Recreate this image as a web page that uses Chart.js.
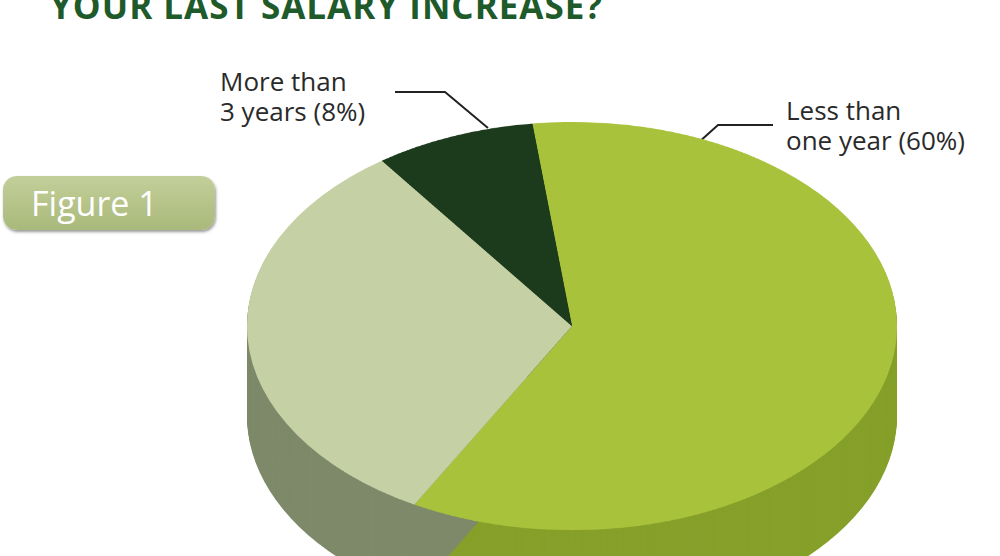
<!DOCTYPE html>
<html><head><meta charset="utf-8">
<script src="https://cdn.jsdelivr.net/npm/chart.js@4"></script>
<style>
body{margin:0;width:1000px;height:556px;overflow:hidden;background:#fff;position:relative;font-family:"Open Sans",Lato,sans-serif}
#title{position:absolute;left:50px;top:-18px;font:bold 35px "Open Sans",sans-serif;color:#1e5a2a;letter-spacing:1px;white-space:nowrap}
#badge{position:absolute;left:3px;top:176px;width:212px;height:54px;border-radius:14px;background:linear-gradient(#c3cf9a,#a9b97a);box-shadow:1px 2px 3px #999;color:#fff;font-size:34px;line-height:54px;padding-left:28px;box-sizing:border-box}
.lbl{position:absolute;font-size:26px;line-height:30px;color:#2a2a2a}
#pie{position:absolute;left:247px;top:122px;width:650px;height:498px}
svg{position:absolute;left:0;top:0}
</style></head><body>
<div id="title">YOUR LAST SALARY INCREASE?</div>
<div id="badge">Figure 1</div>
<div class="lbl" style="left:220px;top:66px">More than<br>3 years (8%)</div>
<div class="lbl" style="left:786px;top:95px">Less than<br>one year (60%)</div>
<svg width="1000" height="556"><polyline points="395,92 445,92 488,128" fill="none" stroke="#222" stroke-width="2"/><polyline points="698,143 718,125 773,125" fill="none" stroke="#222" stroke-width="2"/></svg>
<canvas id="pie" width="650" height="793" style="width:650px;height:498px"></canvas>
<script>
const labels = ['Less than one year', 'Other', 'More than 3 years'];
const values = [60, 32, 8];
const topColors = ['#a9c23b', '#c6d0a5', '#1c3b1c'];
const sideColors = ['#86a02a', '#7e8a6a', '#142a14'];
const depth = 143;

const sidePlugin = {
  id: 'side',
  beforeDatasetsDraw(chart) {
    const ctx = chart.ctx;
    chart.getDatasetMeta(0).data.forEach((arc, i) => {
      const p = arc.getProps(['x', 'y', 'startAngle', 'endAngle', 'outerRadius'], true);
      ctx.save();
      ctx.fillStyle = sideColors[i];
      for (let d = depth; d > 0; d -= 2) {
        ctx.beginPath();
        ctx.moveTo(p.x, p.y + d);
        ctx.arc(p.x, p.y + d, p.outerRadius, p.startAngle, p.endAngle);
        ctx.closePath();
        ctx.fill();
      }
      ctx.restore();
    });
  }
};

new Chart(document.getElementById('pie'), {
  type: 'pie',
  data: { labels, datasets: [{ data: values, backgroundColor: topColors, borderWidth: 0 }] },
  options: {
    responsive: false, devicePixelRatio: 1, animation: false, rotation: -7,
    layout: { padding: { bottom: depth } },
    plugins: { legend: { display: false }, tooltip: { enabled: false } }
  },
  plugins: [sidePlugin]
});
</script>
</body></html>
